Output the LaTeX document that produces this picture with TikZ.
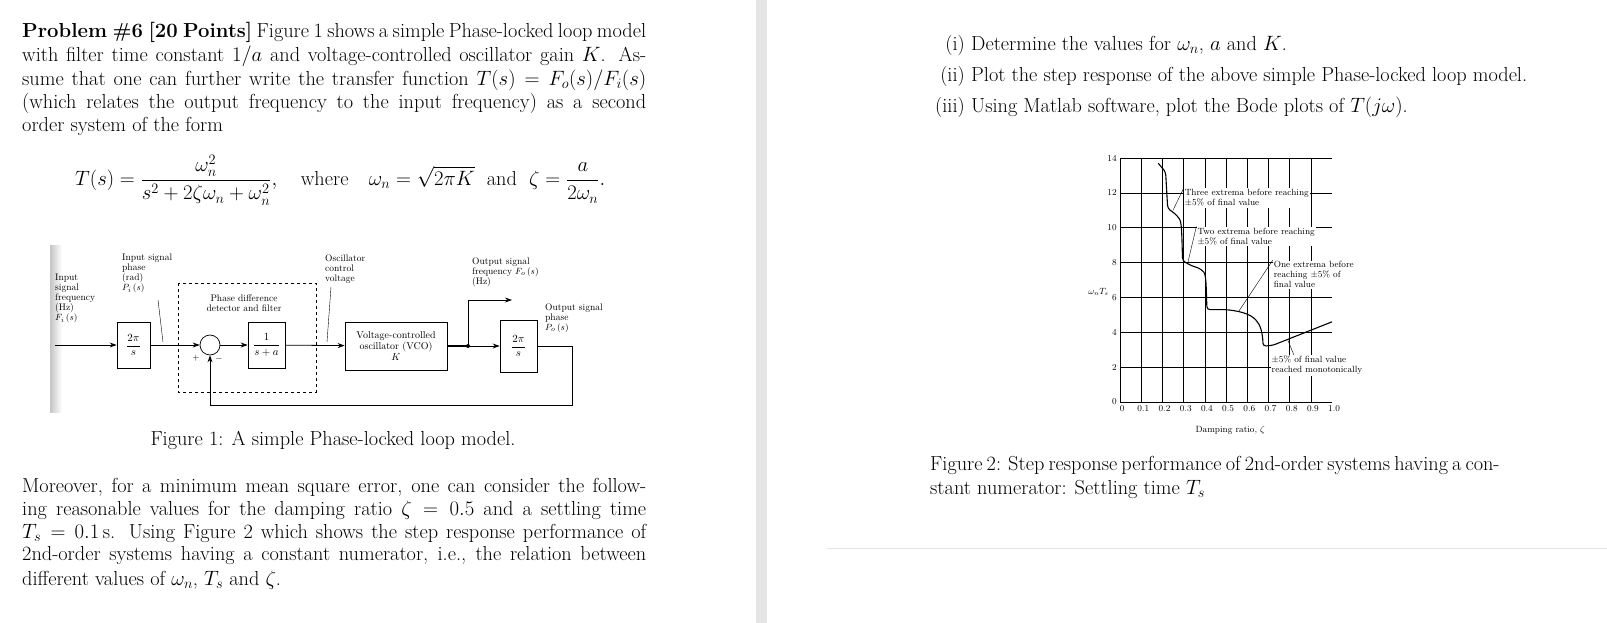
\documentclass[tikz,border=0pt]{standalone}
\usetikzlibrary{arrows.meta}
\begin{document}
\begin{tikzpicture}[x=1pt,y=-1pt,
  txt/.style={anchor=west,inner sep=0pt,font=\fontsize{20.3}{24}\selectfont},
  dlab/.style={align=left,anchor=north west,inner sep=0pt,font=\fontsize{9.5}{10}\selectfont},
  blk/.style={draw,line width=0.7pt,font=\fontsize{11}{12}\selectfont},
  sig/.style={line width=0.8pt,-{Stealth[length=7pt,width=5pt]}},
  cl/.style={inner sep=0pt,font=\fontsize{9}{10}\selectfont,align=left,anchor=west}]
\useasboundingbox (0,0) rectangle (1607,623);
\fill[gray!20] (756,0) rectangle (767,623);
\draw[gray!20,line width=1pt] (827,548) -- (1607,548);
% --- left text
\node[txt] (l1) at (22,32) {\makebox[624pt][s]{\textbf{Problem \#6 [20 Points]} Figure 1 shows a simple Phase-locked loop model}};
\node[txt] (l2) at (22,56) {\makebox[624pt][s]{with filter time constant $1/a$ and voltage-controlled oscillator gain $K$. As-}};
\node[txt] (l3) at (22,80) {\makebox[624pt][s]{sume that one can further write the transfer function $T(s)=F_o(s)/F_i(s)$}};
\node[txt] (l4) at (22,103) {\makebox[624pt][s]{(which relates the output frequency to the input frequency) as a second}};
\node[txt] (l5) at (22,126) {order system of the form};
\node[txt] (eq) at (75,180) {$\displaystyle T(s)=\frac{\omega_n^2}{s^2+2\zeta\omega_n+\omega_n^2},\quad\mbox{where}\quad \omega_n=\sqrt{2\pi K}\ \mbox{ and }\ \zeta=\frac{a}{2\omega_n}.$};
\node[txt,anchor=center] (cap1) at (333,440) {Figure 1: A simple Phase-locked loop model.};
\node[txt] (m1) at (22,487) {\makebox[624pt][s]{Moreover, for a minimum mean square error, one can consider the follow-}};
\node[txt] (m2) at (22,510) {\makebox[624pt][s]{ing reasonable values for the damping ratio $\zeta=0.5$ and a settling time}};
\node[txt] (m3) at (22,533) {\makebox[624pt][s]{$T_s=0.1\,$s. Using Figure 2 which shows the step response performance of}};
\node[txt] (m4) at (22,556) {\makebox[624pt][s]{2nd-order systems having a constant numerator, i.e., the relation between}};
\node[txt] (m5) at (22,580) {different values of $\omega_n$, $T_s$ and $\zeta$.};
% --- right text
\node[txt,anchor=east] (i1) at (965,45) {(i)};
\node[txt] (i1t) at (971,45) {Determine the values for $\omega_n$, $a$ and $K$.};
\node[txt,anchor=east] (i2) at (965,76) {(ii)};
\node[txt] (i2t) at (971,76) {Plot the step response of the above simple Phase-locked loop model.};
\node[txt,anchor=east] (i3) at (965,107) {(iii)};
\node[txt] (i3t) at (971,107) {Using Matlab software, plot the Bode plots of $T(j\omega)$.};
\node[txt] (c21) at (930,465) {\makebox[565pt][s]{Figure 2: Step response performance of 2nd-order systems having a con-}};
\node[txt] (c22) at (930,489) {stant numerator: Settling time $T_s$};
% --- block diagram
\shade[left color=gray!45,right color=white] (50,245) rectangle (62,412);
\node[blk,minimum width=33pt,minimum height=46pt] (b1) at (133.5,345) {$\displaystyle\frac{2\pi}{s}$};
\node[draw,circle,line width=0.7pt,minimum size=20pt,inner sep=0pt] (sum) at (210,345) {};
\node[blk,minimum width=37pt,minimum height=46pt] (b2) at (266.5,345) {$\displaystyle\frac{1}{s+a}$};
\node[blk,minimum width=102pt,minimum height=48pt,align=center,font=\fontsize{10}{11}\selectfont] (vco) at (396,346) {Voltage-controlled\\oscillator (VCO)\\$K$};
\node[blk,minimum width=37pt,minimum height=52pt] (b3) at (518.5,346) {$\displaystyle\frac{2\pi}{s}$};
\draw[dashed,line width=0.6pt] (178,283) rectangle (316,392);
\coordinate (in) at (55,345);
\coordinate (jn) at (468,346);
\coordinate (br) at (468,300);
\coordinate (bro) at (512,300);
\coordinate (fr) at (572,346);
\coordinate (fb) at (572,405);
\coordinate (fl) at (210,405);
\draw[sig] (in) -- (b1);
\draw[sig] (b1) -- (sum);
\draw[sig] (sum) -- (b2);
\draw[sig] (b2) -- (vco);
\draw[line width=1.2pt] (vco) -- (jn);
\draw[sig] (jn) -- (b3);
\fill (jn) circle (2pt);
\draw[sig] (jn) -- (br) -- (bro);
\draw[sig] (b3.east) -- (fr) -- (fb) -- (fl) -- (sum.south);
\node[font=\fontsize{9}{9}\selectfont] (plus) at (196,358) {$+$};
\node[font=\fontsize{9}{9}\selectfont] (minus) at (219,359) {$-$};
\node[dlab] (t1) at (55,274) {Input\\signal\\frequency\\(Hz)\\$F_i\,(s)$};
\node[dlab] (t2) at (122,254) {Input signal\\phase\\(rad)\\$P_i\,(s)$};
\node[dlab,align=center,anchor=center] (t3) at (244,303) {Phase difference\\detector and filter};
\node[dlab] (t4) at (325,255) {Oscillator\\control\\voltage};
\node[dlab] (t5) at (472,258) {Output signal\\frequency $F_o\,(s)$\\(Hz)};
\node[dlab] (t6) at (545,304) {Output signal\\phase\\$P_o\,(s)$};
\coordinate (p1a) at (158,300); \coordinate (p1b) at (163,342);
\coordinate (p2a) at (331,287); \coordinate (p2b) at (327,342);
\draw[line width=0.4pt] (p1a) -- (p1b);
\draw[line width=0.4pt] (p2a) -- (p2b);
% --- chart
\begin{scope}[shift={(1120pt,-402pt)},x=212pt,y=17.43pt]
  \foreach \i in {0,0.1,...,0.95} \draw[line width=0.6pt] (\i,0) -- (\i,14);
  \foreach \j in {0,2,...,14} \draw[line width=0.6pt] (0,\j) -- (1,\j);
  \foreach \j in {0,2,...,14} \node[cl,anchor=east] (yl\j) at (-0.015,\j) {\j};
  \foreach \i/\l in {0/0,0.1/0.1,0.2/0.2,0.3/0.3,0.4/0.4,0.5/0.5,0.6/0.6,0.7/0.7,0.8/0.8,0.9/0.9,1/1.0}
    \node[cl,anchor=north] at (\i+0.01,-0.2) {\l};
  \node[cl] (yax) at (-0.15,6.3) {$\omega_nT_s$};
  \node[cl,anchor=center] (xax) at (0.52,-1.6) {Damping ratio, $\zeta$};
  \draw[line width=1.1pt,rounded corners=3pt] (0.18,13.7) -- (0.215,13.2) -- (0.225,11.1) -- (0.26,10.8)
     .. controls (0.29,10.4) .. (0.295,8.1) -- (0.34,7.8) -- (0.37,7.7)
     .. controls (0.405,7.4) .. (0.41,5.3) -- (0.5,5.3)
     .. controls (0.64,5.1) and (0.67,4.6) .. (0.675,3.2) -- (0.72,3.25) -- (1.0,4.6);
  \node[cl,fill=white,inner sep=1pt] (a1) at (0.3,11.7) {Three extrema before reaching\\$\pm$5\% of final value};
  \node[cl,fill=white,inner sep=1pt] (a2) at (0.36,9.5) {Two extrema before reaching\\$\pm$5\% of final value};
  \node[cl,fill=white,inner sep=1pt] (a3) at (0.72,7.3) {One extrema before\\reaching $\pm$5\% of\\final value};
  \node[cl,fill=white,inner sep=1pt] (a4) at (0.71,2.1) {$\pm$5\% of final value\\reached monotonically};
  \coordinate (k1) at (0.25,11.0); \coordinate (k2) at (0.32,8.0);
  \coordinate (k3) at (0.56,5.2); \coordinate (k4) at (0.79,3.6);
  \draw[line width=0.4pt] (a1.north west) -- (k1);
  \draw[line width=0.4pt] (a2.north west) -- (k2);
  \draw[line width=0.4pt] (a3.north west) -- (k3);
  \draw[line width=0.4pt] (0.82,2.7) -- (k4);
\end{scope}
\end{tikzpicture}
\end{document}
